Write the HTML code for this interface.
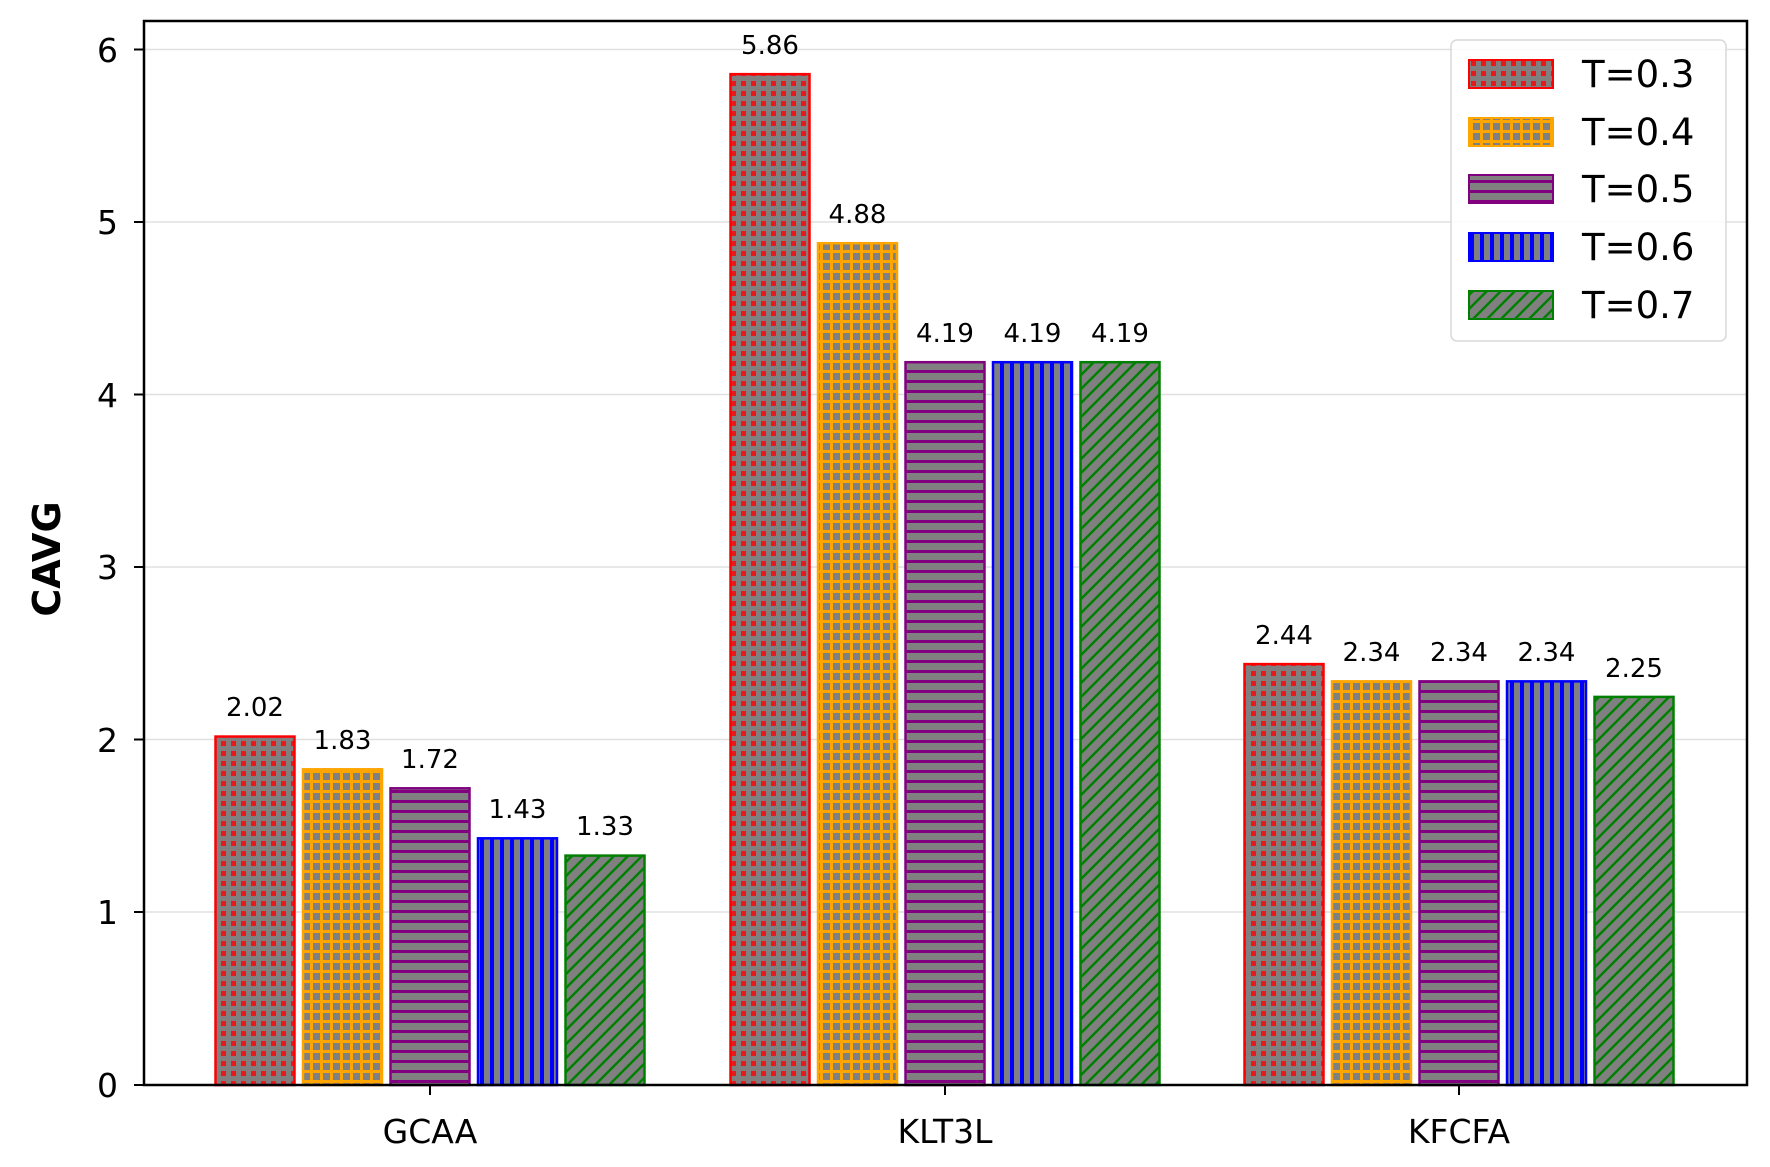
<!DOCTYPE html>
<html><head><meta charset="utf-8"><style>body{margin:0;background:#fff}svg{display:block}text{font-family:"DejaVu Sans","Liberation Sans",sans-serif}</style></head><body>
<svg width="1770" height="1167" viewBox="0 0 1770 1167" xmlns="http://www.w3.org/2000/svg">
<defs>
<pattern id="p0" width="10" height="10" patternUnits="userSpaceOnUse"><rect width="10" height="10" fill="#808080"/><rect x="1" y="1" width="5" height="5" fill="#ff0000" opacity="0.8"/></pattern>
<pattern id="p1" width="10" height="10" patternUnits="userSpaceOnUse"><rect width="10" height="10" fill="#808080"/><rect x="0" y="0" width="10" height="3" fill="#ffa500"/><rect x="0" y="0" width="3" height="10" fill="#ffa500"/></pattern>
<pattern id="p2" width="10" height="10" patternUnits="userSpaceOnUse"><rect width="10" height="10" fill="#808080"/><rect y="0" width="10" height="3" fill="#800080"/></pattern>
<pattern id="p3" width="10" height="10" patternUnits="userSpaceOnUse"><rect width="10" height="10" fill="#808080"/><rect x="0" width="4" height="10" fill="#0000ff"/></pattern>
<pattern id="p4" width="14" height="14" patternUnits="userSpaceOnUse"><rect width="14" height="14" fill="#808080"/><path d="M-2,16 L16,-2 M-9,9 L9,-9 M5,23 L23,5" stroke="#008000" stroke-width="2.5"/></pattern>
</defs>
<g stroke="#e0e0e0" stroke-width="1.5">
<line x1="144" x2="1747" y1="49.5" y2="49.5"/><line x1="144" x2="1747" y1="222" y2="222"/><line x1="144" x2="1747" y1="394.5" y2="394.5"/><line x1="144" x2="1747" y1="567" y2="567"/><line x1="144" x2="1747" y1="739.5" y2="739.5"/><line x1="144" x2="1747" y1="912" y2="912"/>
</g>
<g stroke-width="2.5">
<rect x="215.5" y="736.55" width="79" height="348.45" fill="url(#p0)" stroke="#ff0000"/>
<rect x="303" y="769.3" width="79" height="315.7" fill="url(#p1)" stroke="#ffa500"/>
<rect x="390.5" y="788.3" width="79" height="296.7" fill="url(#p2)" stroke="#800080"/>
<rect x="478" y="838.3" width="79" height="246.7" fill="url(#p3)" stroke="#0000ff"/>
<rect x="565.5" y="855.6" width="79" height="229.4" fill="url(#p4)" stroke="#008000"/>
<rect x="730.5" y="74.15" width="79" height="1010.85" fill="url(#p0)" stroke="#ff0000"/>
<rect x="818" y="243.2" width="79" height="841.8" fill="url(#p1)" stroke="#ffa500"/>
<rect x="905.5" y="362.2" width="79" height="722.8" fill="url(#p2)" stroke="#800080"/>
<rect x="993" y="362.2" width="79" height="722.8" fill="url(#p3)" stroke="#0000ff"/>
<rect x="1080.5" y="362.2" width="79" height="722.8" fill="url(#p4)" stroke="#008000"/>
<rect x="1244.5" y="664.1" width="79" height="420.9" fill="url(#p0)" stroke="#ff0000"/>
<rect x="1332" y="681.35" width="79" height="403.65" fill="url(#p1)" stroke="#ffa500"/>
<rect x="1419.5" y="681.35" width="79" height="403.65" fill="url(#p2)" stroke="#800080"/>
<rect x="1507" y="681.35" width="79" height="403.65" fill="url(#p3)" stroke="#0000ff"/>
<rect x="1594.5" y="696.9" width="79" height="388.1" fill="url(#p4)" stroke="#008000"/>
</g>
<g font-size="26" text-anchor="middle">
<text x="255" y="716">2.02</text><text x="342.5" y="749">1.83</text><text x="430" y="768">1.72</text><text x="517.5" y="818">1.43</text><text x="605" y="835">1.33</text>
<text x="770" y="54">5.86</text><text x="857.5" y="223">4.88</text><text x="945" y="342">4.19</text><text x="1032.5" y="342">4.19</text><text x="1120" y="342">4.19</text>
<text x="1284" y="644">2.44</text><text x="1371.5" y="661">2.34</text><text x="1459" y="661">2.34</text><text x="1546.5" y="661">2.34</text><text x="1634" y="677">2.25</text>
</g>
<rect x="144" y="21" width="1603" height="1064" fill="none" stroke="#000" stroke-width="2.5"/>
<g font-size="33" fill="#000" text-anchor="end">
<text x="118" y="1097">0</text><text x="118" y="924">1</text><text x="118" y="752">2</text><text x="118" y="579">3</text><text x="118" y="407">4</text><text x="118" y="234">5</text><text x="118" y="62">6</text>
</g>
<g stroke="#000" stroke-width="2"><line x1="134" x2="144" y1="1085" y2="1085"/><line x1="134" x2="144" y1="912" y2="912"/><line x1="134" x2="144" y1="739.5" y2="739.5"/><line x1="134" x2="144" y1="567" y2="567"/><line x1="134" x2="144" y1="394.5" y2="394.5"/><line x1="134" x2="144" y1="222" y2="222"/><line x1="134" x2="144" y1="49.5" y2="49.5"/>
<line x1="430" x2="430" y1="1085" y2="1095"/><line x1="945" x2="945" y1="1085" y2="1095"/><line x1="1459" x2="1459" y1="1085" y2="1095"/></g>
<g font-size="33" text-anchor="middle"><text x="430" y="1143">GCAA</text><text x="945" y="1143">KLT3L</text><text x="1459" y="1143">KFCFA</text></g>
<text transform="translate(60,559) rotate(-90)" font-size="38" font-weight="bold" text-anchor="middle">CAVG</text>
<rect x="1451" y="40" width="275" height="301" rx="6" fill="#fff" fill-opacity="0.85" stroke="#d8d8d8" stroke-width="1.5"/>
<g font-size="37">
<rect x="1469" y="60" width="84" height="28" fill="url(#p0)" stroke="#ff0000" stroke-width="2"/><text x="1582" y="87">T=0.3</text>
<rect x="1469" y="118" width="84" height="28" fill="url(#p1)" stroke="#ffa500" stroke-width="2"/><text x="1582" y="145">T=0.4</text>
<rect x="1469" y="175" width="84" height="28" fill="url(#p2)" stroke="#800080" stroke-width="2"/><text x="1582" y="202">T=0.5</text>
<rect x="1469" y="233" width="84" height="28" fill="url(#p3)" stroke="#0000ff" stroke-width="2"/><text x="1582" y="260">T=0.6</text>
<rect x="1469" y="291" width="84" height="28" fill="url(#p4)" stroke="#008000" stroke-width="2"/><text x="1582" y="318">T=0.7</text>
</g>
</svg>
</body></html>
